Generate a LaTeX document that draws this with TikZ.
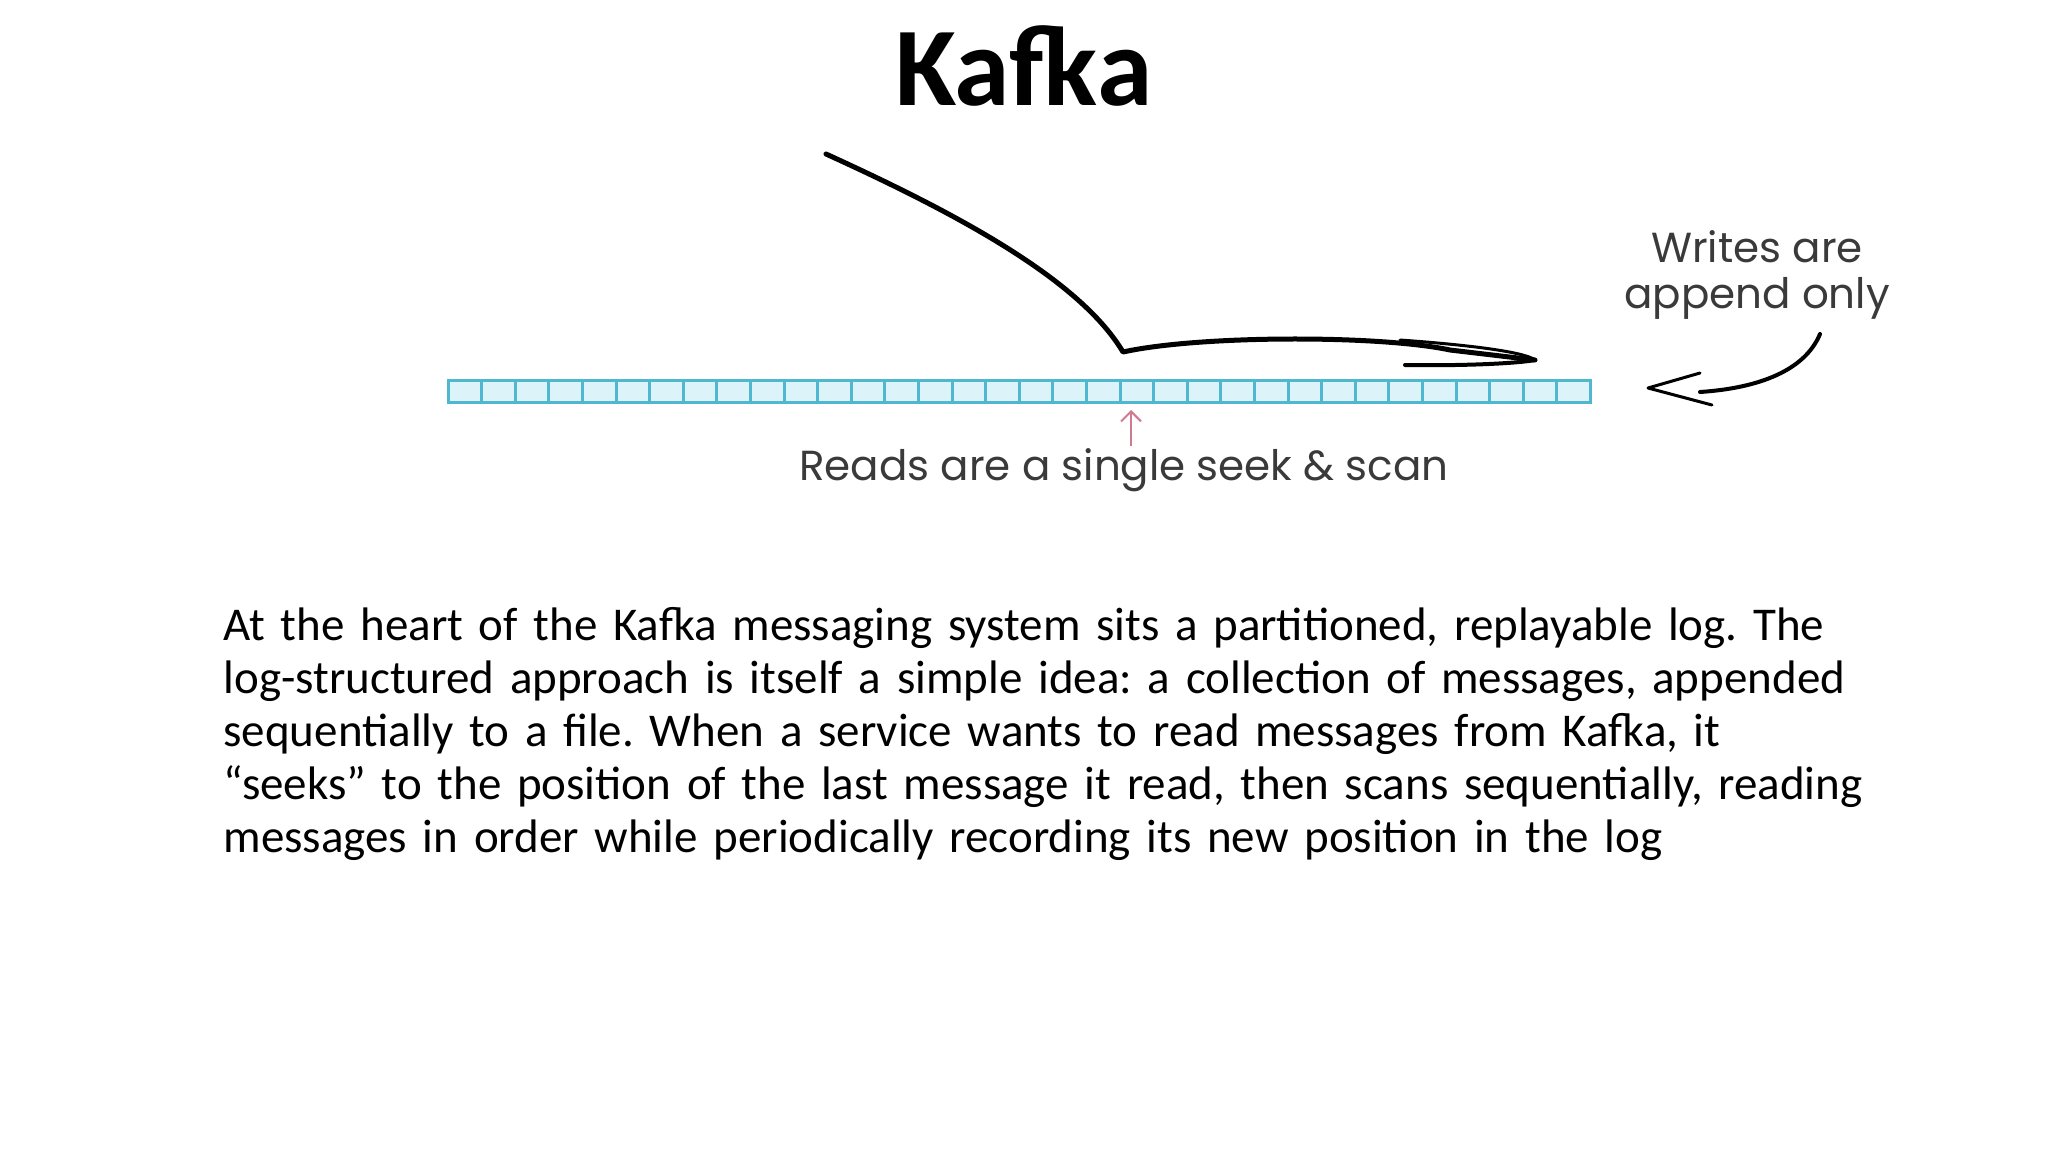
\documentclass[tikz,border=0pt]{standalone}
\usepackage{fontspec}
\setmainfont{Carlito}
\newfontfamily\hand{Poppins}
\usetikzlibrary{arrows.meta}
\definecolor{cellfill}{HTML}{DDF3FA}
\definecolor{celldraw}{HTML}{4FB8D0}
\definecolor{pinky}{HTML}{D07A92}
\definecolor{handgray}{HTML}{3A3A3A}
\tikzset{
  hw/.style={font=\hand\fontsize{42}{46}\selectfont, text=handgray},
  ink/.style={line width=5pt, line cap=round, line join=round, black}
}
\begin{document}
\frenchspacing
\begin{tikzpicture}[x=1pt,y=-1pt]
\useasboundingbox (0,0) rectangle (2048,1152);
\node[font=\bfseries\fontsize{112}{120}\selectfont, anchor=base] (title) at (1024,105) {Kafka};
% log
\foreach \i in {0,...,33} {
  \draw[celldraw, fill=cellfill, line width=3pt] (448+\i*33.6,380) rectangle ++(33.6,22);
}
\coordinate (logtop) at (1123,352);
\coordinate (seek) at (1131,410);
\coordinate (start) at (826,154);
\coordinate (tip) at (1535,360);
\draw[ink] (start) .. controls (960,215) and (1080,280) .. (logtop)
  .. controls (1200,335) and (1380,335) .. (1450,350) -- (tip);
\draw[ink, line width=3pt] (1400,340) .. controls (1470,345) and (1525,352) .. (tip);
\draw[ink, line width=4pt] (1405,365) .. controls (1470,366) and (1520,363) .. (tip);
% pink arrow
\coordinate (pinkbot) at (1131,446);
\draw[pinky, line width=2pt, -{Straight Barb[length=10pt,width=20pt]}] (pinkbot) -- (seek);
\node[hw] (reads) at (1124,470) {Reads are a single seek \& scan};
\node[hw, align=center] (writes) at (1757,275) {Writes are\\append only};
\coordinate (wtip) at (1648,388);
\draw[ink, line width=4pt] (1820,334) .. controls (1805,370) and (1760,388) .. (1700,392);
\draw[ink, line width=3pt] (1700,373) -- (wtip) -- (1712,405);
% body
\node[anchor=north west, align=left, text width=1800pt, font=\fontsize{47}{53}\selectfont] (body) at (220,604)
{At the heart of the Kafka messaging system sits a partitioned, replayable log. The\\
log-structured approach is itself a simple idea: a collection of messages, appended\\
sequentially to a file. When a service wants to read messages from Kafka, it\\
“seeks” to the position of the last message it read, then scans sequentially, reading\\
messages in order while periodically recording its new position in the log};
\end{tikzpicture}
\end{document}
